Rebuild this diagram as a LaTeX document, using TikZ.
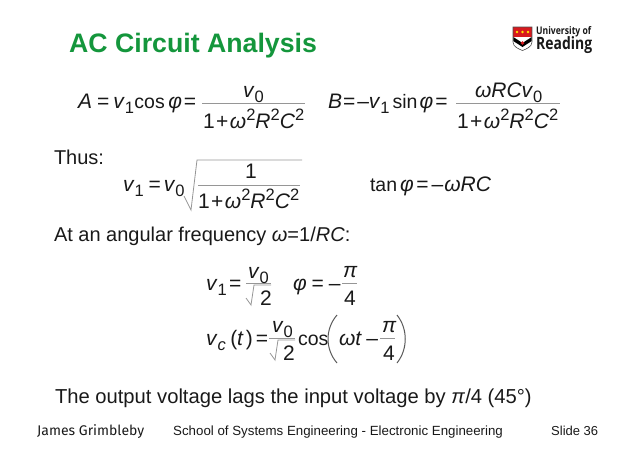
\documentclass[tikz,border=0pt]{standalone}
\usepackage{fontspec}
\setmainfont{Liberation Sans}
\newfontfamily\footfont{Fira Sans}
\newfontfamily\logofont{Open Sans}
\definecolor{titlegreen}{RGB}{20,150,60}
\definecolor{ink}{RGB}{25,25,25}
\definecolor{rule}{RGB}{150,150,150}
\definecolor{shieldred}{RGB}{215,25,30}
\newcommand\fs[1]{\fontsize{#1}{#1}\selectfont}
\newcommand\V{\textit}
\newcommand\Fn[1]{{\fs{19.5}#1}}
\newcommand\Sub[1]{\raisebox{-5pt}{\fs{16.5}#1}}
\newcommand\Sup[1]{\raisebox{8pt}{\fs{16.5}#1}}
\newcommand\Eq{\hspace{5pt}=\hspace{4pt}}
\newcommand\Den{1\hspace{1.5pt}+\hspace{1.5pt}\V{ω}\Sup{2}\V{R}\Sup{2}\V{C}\Sup{2}}
\tikzset{
  x=1pt,y=-1pt,
  eq/.style={anchor=base west,inner sep=0pt,outer sep=0pt,text=ink,font=\fs{21}},
  body/.style={anchor=base west,inner sep=0pt,outer sep=0pt,text=ink,font=\fs{20}},
  foot/.style={anchor=base west,inner sep=0pt,text=ink,font=\fs{13.3}},
  bar/.style={draw=rule,line width=0.8pt},
  paren/.style={draw=rule!60!black,line width=1pt},
}
\begin{document}
\begin{tikzpicture}
\useasboundingbox (0,0) rectangle (638,451);
\node[anchor=base west,inner sep=0pt,text=titlegreen,font=\fs{26.7}\bfseries] (title) at (69,52) {AC Circuit Analysis};
% logo
\fill[shieldred] (513,27) rectangle (532,37);
\draw[black!70,line width=0.6pt] (513,27) -- (513,42) .. controls (513,47) and (519,49) .. (522.5,50.5) .. controls (526,49) and (532,47) .. (532,42) -- (532,27) -- cycle;
\foreach \px in {517,522.5,528} \fill[yellow!85!orange] (\px,32) circle (1.4);
\fill[black] (513.3,37) -- (522.5,43) -- (531.7,37) -- (531.7,41) -- (522.5,47) -- (513.3,41) -- cycle;
\fill[shieldred] (522.5,43) circle (1.8);
\node[anchor=base west,inner sep=0pt,text=ink,font=\logofont\fs{10.5}\bfseries,xscale=.82] (uni) at (536,34) {University of};
\node[anchor=base west,inner sep=0pt,text=ink,font=\logofont\fs{17}\bfseries,xscale=.82] (rdg) at (536,49) {Reading};
% eq A
\node[eq] (a) at (78,108) {\V{A}\Eq\V{v}\Sub{1}\hspace{.5pt}\Fn{cos}\hspace{3.5pt}\V{φ}\hspace{2pt}=};
\draw[bar] (202,103) -- (305,103);
\node[eq] (an) at (243,97) {\V{v}\Sub{0}};
\node[eq] (ad) at (203,128) {\Den};
% eq B
\node[eq] (b) at (328,108) {\V{B}\hspace{1pt}=\hspace{2pt}–\V{v}\Sub{1}\hspace{3pt}\Fn{sin}\hspace{2pt}\V{φ}\hspace{2pt}=};
\draw[bar] (456,103) -- (560,103);
\node[eq] (bn) at (475,97) {\V{ωRCv}\Sub{0}};
\node[eq] (bd) at (457,128) {\Den};
% thus
\node[body] (thus) at (54,164) {Thus:};
\node[eq] (v1) at (123,191.5) {\V{v}\Sub{1}\hspace{5pt}=\hspace{3pt}\V{v}\Sub{0}};
\draw[bar] (184,196) -- (191,210) -- (197,160) -- (302,160);
\draw[bar] (198,185) -- (300,185);
\node[eq] (n1) at (245,178.5) {1};
\node[eq] (d1) at (198,208) {\Den};
\node[eq] (tan) at (370,191.5) {\Fn{tan}\hspace{3pt}\V{φ}\hspace{2.5pt}=\hspace{3pt}–\hspace{1pt}\V{ωRC}};
% at an angular
\node[body] (at) at (54,241) {At an angular frequency \V{ω}=1/\V{RC}:};
% v1
\node[eq] (v1b) at (206,290) {\V{v}\Sub{1}};
\node[eq] (v1e) at (229,290) {=};
\draw[bar] (246,283) -- (271,283);
\node[eq] (v1n) at (248,278) {\V{v}\Sub{0}};
\draw[bar] (246,298) -- (251,305) -- (254,285) -- (271,285);
\node[eq] (v1d) at (260,305) {2};
\node[eq] (ph) at (293,290) {\V{φ}\hspace{5pt}=\hspace{5pt}–};
\draw[bar] (342,283) -- (357,283);
\node[eq] (pn) at (343,277) {\V{π}};
\node[eq] (pd) at (344,305) {4};
% vc
\node[eq] (vc) at (206,345) {\V{v}\Sub{\V{c}}\hspace{4.5pt}(\V{t}\hspace{2pt})\hspace{3pt}=};
\draw[bar] (269,338) -- (295,338);
\node[eq] (vcn) at (272,332) {\V{v}\Sub{0}};
\draw[bar] (270,353) -- (275,360) -- (278,340) -- (295,340);
\node[eq] (vcd) at (283,360) {2};
\node[eq,font=\fs{19.5}] (cos) at (298,345) {cos};
\draw[paren] (337,315) .. controls (325,329) and (325,349) .. (337,363);
\node[eq] (wt) at (339,345) {\V{ωt}\hspace{4.5pt}–};
\draw[bar] (380,338) -- (395,338);
\node[eq] (wn) at (382,332) {\V{π}};
\node[eq] (wd) at (383,360) {4};
\draw[paren] (397,315) .. controls (408,329) and (408,349) .. (397,363);
% output
\node[body,font=\fs{20.2}] (out) at (55,403) {The output voltage lags the input voltage by \V{π}/4 (45°)};
% footer
\node[foot,font=\footfont\fs{14}] (jg) at (37,435) {James Grimbleby};
\node[foot] (sch) at (173,435) {School of Systems Engineering - Electronic Engineering};
\node[foot,font=\fs{13}] (sl) at (551,435) {Slide 36};
\end{tikzpicture}
\end{document}
